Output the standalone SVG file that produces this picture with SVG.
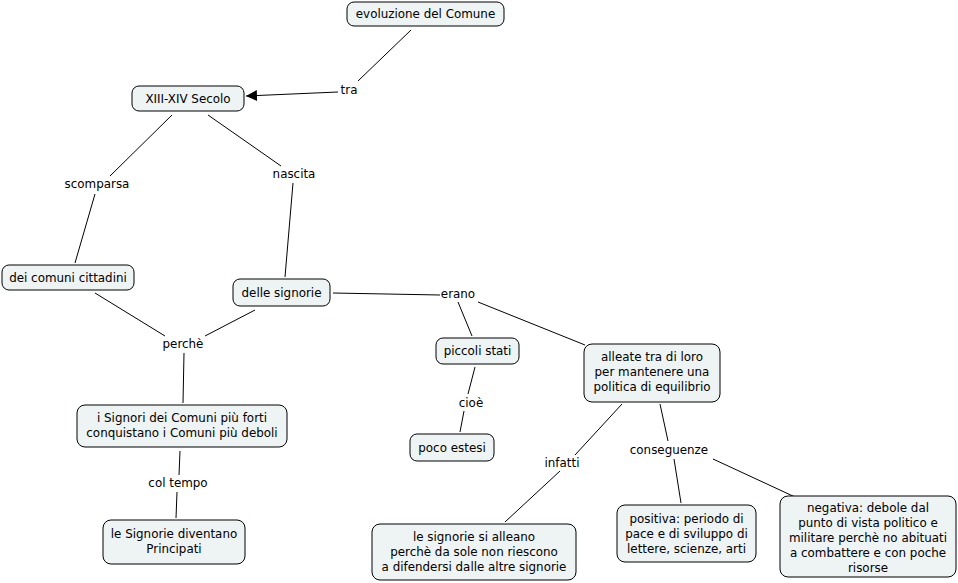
<svg xmlns="http://www.w3.org/2000/svg" width="958" height="583" viewBox="0 0 958 583">
<defs>
<style>
.n rect{fill:#eef3f4;stroke:#000;stroke-width:1}
text{font-family:"DejaVu Sans",Verdana,sans-serif;font-size:11.9px;fill:#000;text-anchor:middle}
.c line{stroke:#000;stroke-width:1}
</style>
<marker id="ar" viewBox="0 0 10 10" refX="10" refY="5" markerWidth="11" markerHeight="11" markerUnits="userSpaceOnUse" orient="auto"><path d="M0,0L10,5L0,10z" fill="#000"/></marker>
</defs>
<rect width="958" height="583" fill="#fff"/>
<g id="connectors" class="c">
<line x1="411" y1="30" x2="358" y2="81"/>
<line x1="338" y1="92" x2="246" y2="96" marker-end="url(#ar)"/>
<line x1="172" y1="115" x2="110" y2="176"/>
<line x1="95" y1="194" x2="75" y2="263"/>
<line x1="208" y1="115" x2="281" y2="166"/>
<line x1="293" y1="183" x2="285" y2="277"/>
<line x1="95" y1="293" x2="165" y2="336"/>
<line x1="255" y1="310" x2="205" y2="336"/>
<line x1="184" y1="353" x2="183" y2="403"/>
<line x1="333" y1="293" x2="440" y2="295"/>
<line x1="458" y1="302" x2="472" y2="336"/>
<line x1="478" y1="302" x2="585" y2="345"/>
<line x1="475" y1="367" x2="468" y2="394"/>
<line x1="464" y1="411" x2="460" y2="432"/>
<line x1="180" y1="451" x2="179" y2="475"/>
<line x1="177" y1="492" x2="176" y2="518"/>
<line x1="622" y1="404" x2="575" y2="455"/>
<line x1="560" y1="471" x2="505" y2="522"/>
<line x1="660" y1="404" x2="668" y2="441"/>
<line x1="674" y1="459" x2="681" y2="503"/>
<line x1="713" y1="459" x2="795" y2="497"/>
<g class="lbl">
<text x="349" y="94">tra</text>
<text x="97" y="188">scomparsa</text>
<text x="294" y="178">nascita</text>
<text x="183" y="348">perchè</text>
<text x="458" y="298">erano</text>
<text x="471" y="407">cioè</text>
<text x="178" y="487">col tempo</text>
<text x="562" y="467">infatti</text>
<text x="669" y="454">conseguenze</text>
</g>
</g>
<g id="n1" class="n"><rect x="347" y="2" width="157" height="24" rx="7"/><text x="425.5" y="18">evoluzione del Comune</text></g>
<g id="n2" class="n"><rect x="132" y="86" width="112" height="25" rx="7"/><text x="188" y="103">XIII-XIV Secolo</text></g>
<g id="n3" class="n"><rect x="2" y="265" width="132" height="25" rx="7"/><text x="68" y="282">dei comuni cittadini</text></g>
<g id="n4" class="n"><rect x="233" y="279" width="97" height="27" rx="7"/><text x="281.5" y="297">delle signorie</text></g>
<g id="n5" class="n"><rect x="436" y="338" width="83" height="26" rx="7"/><text x="477.5" y="355">piccoli stati</text></g>
<g id="n6" class="n"><rect x="584" y="344" width="136" height="58" rx="8"/><text x="652" y="361">alleate tra di loro</text><text x="652" y="376">per mantenere una</text><text x="652" y="391">politica di equilibrio</text></g>
<g id="n7" class="n"><rect x="77" y="405" width="210" height="42" rx="8"/><text x="182" y="422">i Signori dei Comuni più forti</text><text x="182" y="437">conquistano i Comuni più deboli</text></g>
<g id="n8" class="n"><rect x="410" y="434" width="84" height="27" rx="7"/><text x="452" y="452">poco estesi</text></g>
<g id="n9" class="n"><rect x="103" y="520" width="142" height="44" rx="8"/><text x="174" y="538">le Signorie diventano</text><text x="174" y="553">Principati</text></g>
<g id="n10" class="n"><rect x="372" y="524" width="204" height="56" rx="8"/><text x="474" y="541">le signorie si alleano</text><text x="474" y="556">perchè da sole non riescono</text><text x="474" y="571">a difendersi dalle altre signorie</text></g>
<g id="n11" class="n"><rect x="617" y="505" width="139" height="57" rx="8"/><text x="686.5" y="523">positiva: periodo di</text><text x="686.5" y="538">pace e di sviluppo di</text><text x="686.5" y="553">lettere, scienze, arti</text></g>
<g id="n12" class="n"><rect x="780" y="496" width="176" height="81" rx="8"/><text x="868" y="512">negativa: debole dal</text><text x="868" y="527">punto di vista politico e</text><text x="868" y="542">militare perchè no abituati</text><text x="868" y="557">a combattere e con poche</text><text x="868" y="572">risorse</text></g>
</svg>
